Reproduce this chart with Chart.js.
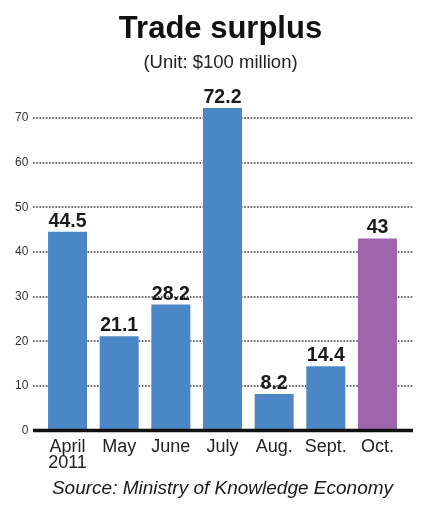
<!DOCTYPE html>
<html>
<head>
<meta charset="utf-8">
<script src="https://cdn.jsdelivr.net/npm/chart.js@4.4.1/dist/chart.umd.min.js"></script>
<style>
  html, body { margin: 0; padding: 0; background: #fff; }
  #wrap { width: 441px; height: 511px; position: relative; }
</style>
</head>
<body>
<div id="wrap"><canvas id="myChart"></canvas></div>
<script>
// data
let months = [['April', '2011'], 'May', 'June', 'July', 'Aug.', 'Sept.', 'Oct.'];
let surplus = [44.5, 21.1, 28.2, 72.2, 8.2, 14.4, 43];
let barColors = ['#4b87c7', '#4b87c7', '#4b87c7', '#4b87c7', '#4b87c7', '#4b87c7', '#9e65ad'];
let yTicks = [0, 10, 20, 30, 40, 50, 60, 70];

const fontName = '"Liberation Sans", Arial, Helvetica, sans-serif';

// dotted guide lines and the heavy zero line, wider than the bar area
const guideLines = {
    id: 'guideLines',
    beforeDatasetsDraw(chart) {
        const ctx = chart.ctx;
        const y = chart.scales.y;
        ctx.save();
        ctx.strokeStyle = '#666';
        ctx.lineWidth = 2;
        ctx.setLineDash([1.6, 1.6]);
        for (let i = 1; i < yTicks.length; i++) {
            const py = Math.round(y.getPixelForValue(yTicks[i]));
            ctx.beginPath();
            ctx.moveTo(33, py);
            ctx.lineTo(413, py);
            ctx.stroke();
        }
        ctx.restore();
    },
    afterDatasetsDraw(chart) {
        const ctx = chart.ctx;
        const y = chart.scales.y;
        const py = y.getPixelForValue(0);
        ctx.save();
        ctx.strokeStyle = '#111';
        ctx.lineWidth = 3.5;
        ctx.beginPath();
        ctx.moveTo(33, py);
        ctx.lineTo(413, py);
        ctx.stroke();

        // value labels on top of the bars
        const meta = chart.getDatasetMeta(0);
        ctx.fillStyle = '#1a1a1a';
        ctx.font = 'bold 19.5px ' + fontName;
        ctx.textAlign = 'center';
        ctx.textBaseline = 'alphabetic';
        meta.data.forEach((bar, i) => {
            ctx.fillText(String(surplus[i]), bar.x, bar.y - 5);
        });
        ctx.restore();
    }
};

const createdGraph = document.getElementById('myChart');
new Chart(createdGraph, {
    type: 'bar',
    data: {
        labels: months,
        datasets: [{
            label: 'Trade surplus',
            data: surplus,
            backgroundColor: barColors,
            borderWidth: 0,
            categoryPercentage: 1,
            barPercentage: 0.755
        }]
    },
    options: {
        responsive: true,
        maintainAspectRatio: false,
        animation: false,
        layout: { padding: 0 },
        scales: {
            x: {
                offset: true,
                grid: { display: false, drawTicks: false },
                border: { display: false },
                ticks: {
                    color: '#222',
                    padding: 7.7,
                    font: { family: fontName, size: 18, lineHeight: 0.93 }
                },
                title: {
                    display: true,
                    text: 'Source: Ministry of Knowledge Economy',
                    color: '#1a1a1a',
                    font: { family: fontName, size: 19, style: 'italic', lineHeight: 1 },
                    padding: { top: 0, bottom: 12.5 }
                }
            },
            y: {
                min: 0,
                max: 75,
                grid: { display: false, drawTicks: false },
                border: { display: false },
                afterFit: (scale) => { scale.width = 41.7; },
                ticks: {
                    stepSize: 10,
                    includeBounds: false,
                    color: '#333',
                    padding: 13.4,
                    font: { family: fontName, size: 12 }
                }
            },
            yRight: {
                type: 'linear',
                position: 'right',
                display: true,
                grid: { display: false, drawTicks: false },
                border: { display: false },
                ticks: { display: false },
                afterFit: (scale) => { scale.width = 37.7; }
            }
        },
        plugins: {
            legend: { display: false },
            tooltip: { enabled: false },
            title: {
                display: true,
                text: 'Trade surplus',
                color: '#111',
                font: { family: fontName, size: 31, weight: 'bold', lineHeight: 1 },
                padding: { top: 13.5, bottom: 0 }
            },
            subtitle: {
                display: true,
                text: '(Unit: $100 million)',
                color: '#222',
                font: { family: fontName, size: 18.5, lineHeight: 1 },
                padding: { top: 9.5, bottom: 23 }
            }
        }
    },
    plugins: [guideLines]
});
</script>
</body>
</html>
